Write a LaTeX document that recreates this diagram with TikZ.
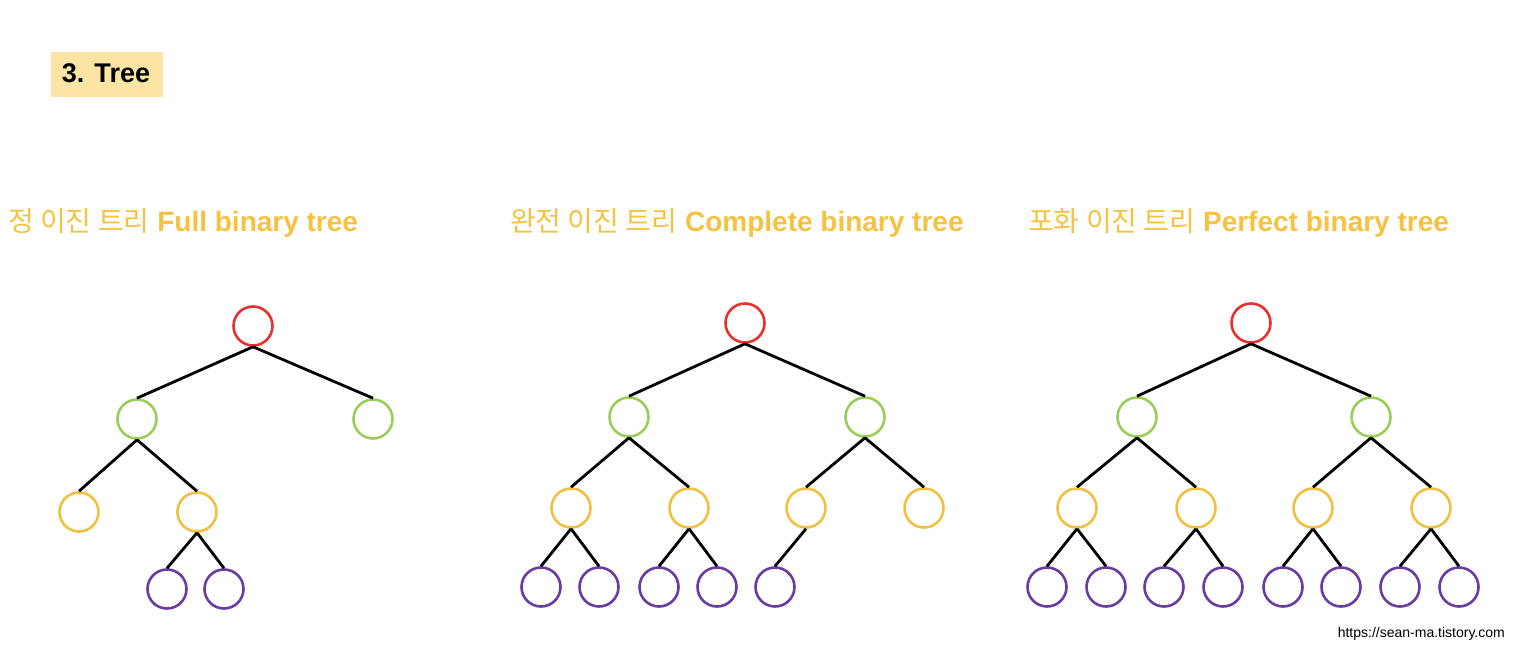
\documentclass[tikz,border=0pt]{standalone}
\usepackage{fontspec}
\setmainfont{Liberation Sans}
\newfontfamily\cjk{Noto Sans CJK KR}
\definecolor{cred}{HTML}{E8312F}
\definecolor{cgreen}{HTML}{9ACD5A}
\definecolor{cyel}{HTML}{F2C040}
\definecolor{cpur}{HTML}{6A3CA0}
\definecolor{lbl}{HTML}{F5C242}
\definecolor{tbg}{HTML}{FCE4A4}
\begin{document}
\begin{tikzpicture}[x=1pt,y=-1pt,
  nd/.style={circle,draw,line width=2.6pt,minimum size=39pt,inner sep=0pt},
  r/.style={nd,draw=cred},g/.style={nd,draw=cgreen},yl/.style={nd,draw=cyel},p/.style={nd,draw=cpur},
  ed/.style={line width=2.8pt,black},
  lab/.style={anchor=base west,text=lbl,font=\fontsize{28}{30}\selectfont\bfseries,inner sep=0pt}]
\useasboundingbox (0,0) rectangle (1518,668);
\fill[tbg] (51,52) rectangle (163,97);
\node[anchor=center,font=\fontsize{27}{30}\selectfont\bfseries] (title) at (106,73) {3. Tree};
\node[lab] (l1) at (8,232) {{\cjk\mdseries 정 이진 트리} Full binary tree};
\node[lab] (l2) at (510,232) {{\cjk\mdseries 완전 이진 트리} Complete binary tree};
\node[lab] (l3) at (1028,232) {{\cjk\mdseries 포화 이진 트리} Perfect binary tree};
\node[anchor=base east,font=\fontsize{14}{16}\selectfont,inner sep=0pt] (cr) at (1505,637) {https://sean-ma.tistory.com};
% tree 1
\node[r] (a) at (253,326) {};
\node[g] (a1) at (137,419) {}; \node[g] (a2) at (373,419) {};
\node[yl] (a11) at (79,512) {}; \node[yl] (a12) at (197,512) {};
\node[p] (a121) at (167,589) {}; \node[p] (a122) at (224,589) {};
\foreach \u/\v in {a/a1,a/a2,a1/a11,a1/a12,a12/a121,a12/a122} \draw[ed] (\u.south) -- (\v.north);
% tree 2
\node[r] (b) at (745,323) {};
\node[g] (b1) at (629,417) {}; \node[g] (b2) at (865,417) {};
\node[yl] (b11) at (571,508) {}; \node[yl] (b12) at (689,508) {};
\node[yl] (b21) at (806,508) {}; \node[yl] (b22) at (924,508) {};
\node[p] (b111) at (541,587) {}; \node[p] (b112) at (599,587) {};
\node[p] (b121) at (659,587) {}; \node[p] (b122) at (717,587) {};
\node[p] (b211) at (775,587) {};
\foreach \u/\v in {b/b1,b/b2,b1/b11,b1/b12,b2/b21,b2/b22,b11/b111,b11/b112,b12/b121,b12/b122,b21/b211} \draw[ed] (\u.south) -- (\v.north);
% tree 3
\node[r] (c) at (1251,323) {};
\node[g] (c1) at (1137,417) {}; \node[g] (c2) at (1371,417) {};
\node[yl] (c11) at (1077,508) {}; \node[yl] (c12) at (1196,508) {};
\node[yl] (c21) at (1313,508) {}; \node[yl] (c22) at (1431,508) {};
\node[p] (c111) at (1047,587) {}; \node[p] (c112) at (1106,587) {};
\node[p] (c121) at (1164,587) {}; \node[p] (c122) at (1223,587) {};
\node[p] (c211) at (1283,587) {}; \node[p] (c212) at (1341,587) {};
\node[p] (c221) at (1400,587) {}; \node[p] (c222) at (1459,587) {};
\foreach \u/\v in {c/c1,c/c2,c1/c11,c1/c12,c2/c21,c2/c22,c11/c111,c11/c112,c12/c121,c12/c122,c21/c211,c21/c212,c22/c221,c22/c222} \draw[ed] (\u.south) -- (\v.north);
\end{tikzpicture}
\end{document}
